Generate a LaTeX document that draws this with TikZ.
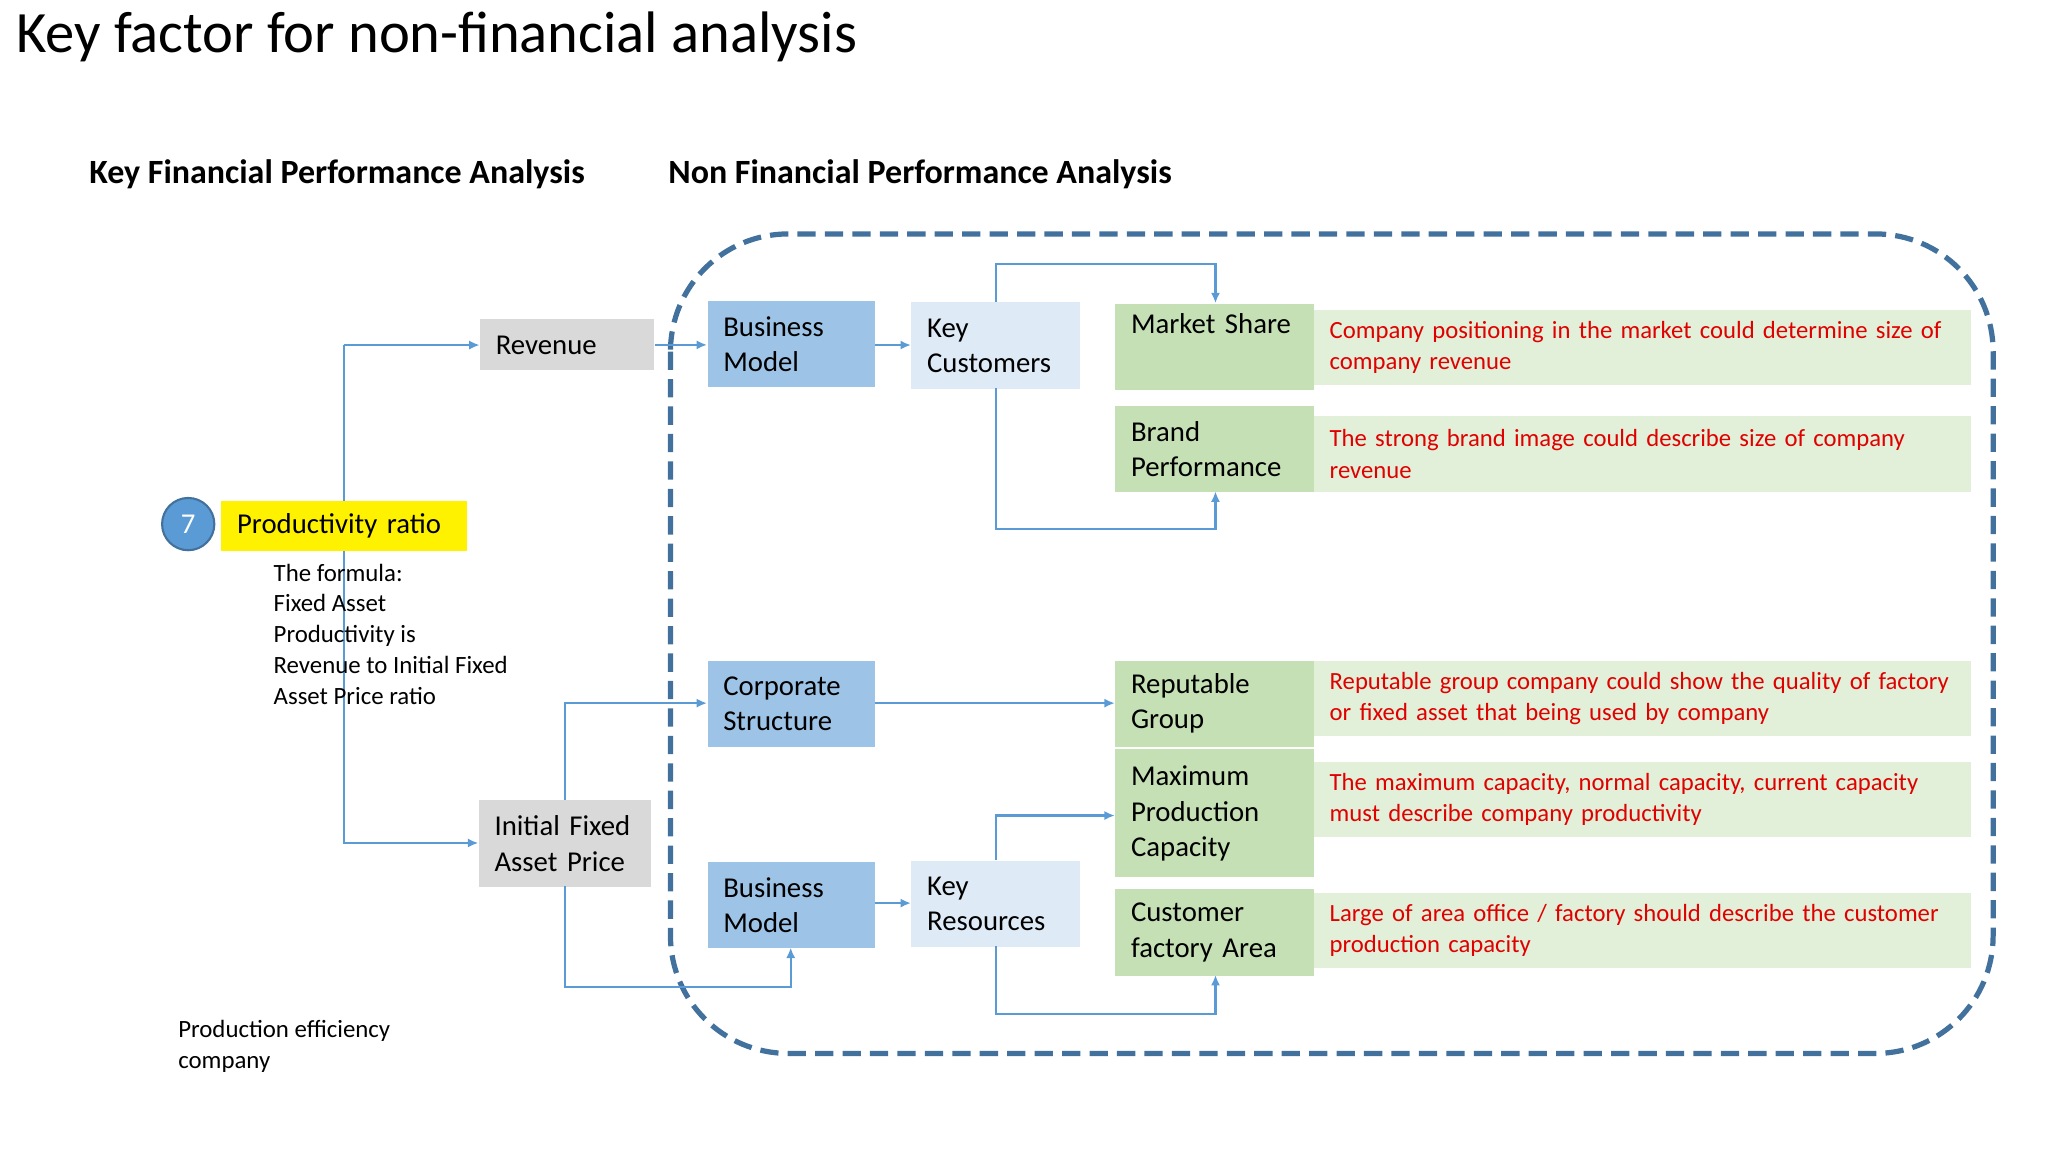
\documentclass[tikz,border=0pt]{standalone}
\usepackage{fontspec}
\setmainfont{Carlito}
\usetikzlibrary{arrows.meta}
\definecolor{gb}{HTML}{D9D9D9}
\definecolor{bb}{HTML}{9DC3E6}
\definecolor{lb}{HTML}{DEEBF7}
\definecolor{gr}{HTML}{C5E0B4}
\definecolor{lg}{HTML}{E2F0D9}
\definecolor{ln}{HTML}{5B9BD5}
\definecolor{dsh}{HTML}{41719C}
\definecolor{rt}{HTML}{E00000}
\begin{document}
\begin{tikzpicture}[x=0.5pt,y=-0.5pt,
  box/.style 2 args={anchor=north west,minimum width=#1*0.5pt,minimum height=#2*0.5pt,text width=#1*0.5pt-12pt,inner xsep=6pt,inner ysep=2pt,align=left,font=\fontsize{11}{13.5}\selectfont},
  red/.style 2 args={anchor=north west,minimum width=#1*0.5pt,minimum height=#2*0.5pt,text width=#1*0.5pt-12pt,inner xsep=6pt,align=left,fill=lg,text=rt,font=\fontsize{9.45}{12}\selectfont},
  conn/.style={ln,line width=0.8pt,-{Latex[length=4pt,width=3.5pt]}},
  plain/.style={font=\fontsize{9.5}{11.8}\selectfont,align=left,anchor=north west,inner sep=0pt}]
\useasboundingbox (0,0) rectangle (1567,881.4);
\node[anchor=west,inner sep=0pt,font=\fontsize{22.4}{26}\selectfont] (title) at (12,28) {Key factor for non-financial analysis};
\node[anchor=west,inner sep=0pt,font=\bfseries\fontsize{13}{15}\selectfont] (h1) at (68,133) {Key Financial Performance Analysis};
\node[anchor=west,inner sep=0pt,font=\bfseries\fontsize{13}{15}\selectfont] (h2) at (511,133) {Non Financial Performance Analysis};
\draw[dsh,line width=2pt,dash pattern=on 7pt off 3.5pt,rounded corners=45pt] (513,179) rectangle (1525,806);
\coordinate (pt) at (263,264);
\coordinate (pb) at (263,645);
\node[box={133}{39},fill=gb] (rev) at (367,244) {Revenue};
\node[box={128}{66},fill=bb] (bm1) at (541,230) {Business\\Model};
\node[box={129}{66},fill=lb] (kc) at (697,231) {Key\\Customers};
\node[box={152}{66},fill=gr] (ms) at (853,232) {Market Share\\\strut};
\node[red={503}{57}] (r1) at (1005,237) {Company positioning in the market could determine size of\\company revenue};
\node[box={152}{66},fill=gr] (bp) at (853,310) {Brand\\Performance};
\node[red={503}{58}] (r2) at (1005,318) {The strong brand image could describe size of company\\revenue};
\node[box={128}{66},fill=bb] (cs) at (541,505) {Corporate\\Structure};
\node[box={152}{66},fill=gr] (rg) at (853,505) {Reputable\\Group};
\node[red={503}{58}] (r3) at (1005,505) {Reputable group company could show the quality of factory\\or fixed asset that being used by company};
\node[box={152}{98},fill=gr] (mp) at (853,573) {Maximum\\Production\\Capacity};
\node[red={503}{57}] (r4) at (1005,583) {The maximum capacity, normal capacity, current capacity\\must describe company productivity};
\node[box={132}{66},fill=gb] (ifa) at (366,612) {Initial Fixed\\Asset Price};
\node[box={128}{66},fill=bb] (bm2) at (541,659) {Business\\Model};
\node[box={129}{66},fill=lb] (kr) at (697,658) {Key\\Resources};
\node[box={152}{66},fill=gr] (cf) at (853,680) {Customer\\factory Area};
\node[red={503}{57}] (r5) at (1005,683) {Large of area office / factory should describe the customer\\production capacity};
\draw[conn] (pt) -- (rev.west |- pt);
\draw[conn] (pt) -- (pb) -- (ifa.west |- pb);
\node[box={188}{38},fill=yellow] (pr) at (169,383) {Productivity ratio};
\node[circle,fill=ln,draw=dsh,line width=0.8pt,minimum size=20pt,inner sep=0pt,text=white,font=\fontsize{11}{13}\selectfont] (seven) at (144,401) {7};
\node[plain] (formula) at (209,431) {The formula:\\Fixed Asset\\Productivity is\\Revenue to Initial Fixed\\Asset Price ratio};
\node[plain] (pe) at (136,780) {Production efficiency\\company};
\draw[conn] (rev.east) -- (bm1.west |- rev.east);
\draw[conn] (bm1.east |- 0,264) -- (kc.west |- 0,264);
\draw[conn] (762,231) -- (762,202) -- (930,202) -- (930,232);
\draw[conn] (762,297) -- (762,405) -- (930,405) -- (930,376);
\draw[conn] (432,612) -- (432,538) -- (cs.west |- 0,538);
\draw[conn] (432,678) -- (432,755) -- (605,755) -- (605,725);
\draw[conn] (cs.east |- 0,538) -- (rg.west |- 0,538);
\draw[conn] (bm2.east |- 0,691) -- (kr.west |- 0,691);
\draw[conn] (762,658) -- (762,624) -- (mp.west |- 0,624);
\draw[conn] (762,724) -- (762,776) -- (930,776) -- (930,746);
\end{tikzpicture}
\end{document}
